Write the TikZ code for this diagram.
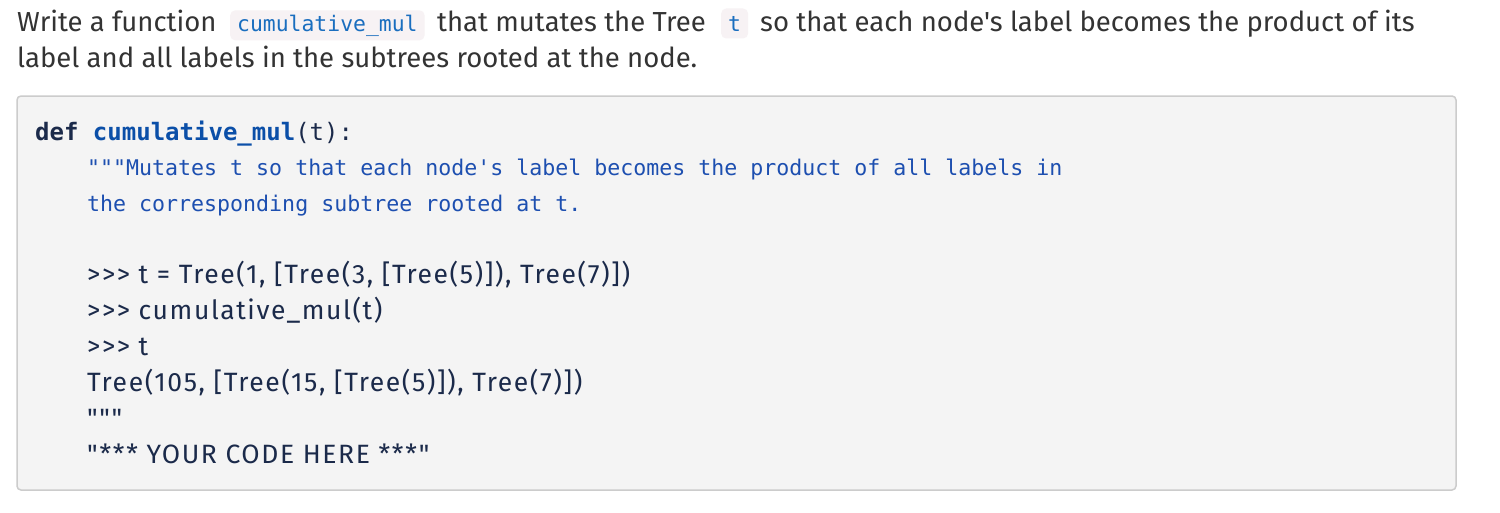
\documentclass[tikz,border=0pt]{standalone}
\usepackage{fontspec}
\newfontfamily\prose{Fira Sans}
\newfontfamily\dtfont[LetterSpace=6]{Fira Sans}
\newfontfamily\codef{DejaVu Sans Mono}
\definecolor{txt}{HTML}{333333}
\definecolor{chipbg}{HTML}{F7F2F4}
\definecolor{chipfg}{HTML}{1A6EBF}
\definecolor{kw}{HTML}{1B2A4A}
\definecolor{fn}{HTML}{0B4FA8}
\definecolor{doc}{HTML}{1D4FB0}
\definecolor{codebg}{HTML}{F4F4F4}
\definecolor{codeborder}{HTML}{CCCCCC}
\begin{document}
\begin{tikzpicture}[x=1pt,y=-1pt,
  body/.style={anchor=base west,inner sep=0pt,font=\prose\fontsize{27.5}{32}\selectfont,text=txt},
  chip/.style={fill=chipbg,rounded corners=5pt,minimum height=30pt,text=chipfg,font=\codef\fontsize{21.4}{26}\selectfont,inner xsep=7pt,anchor=base west},
  code/.style={anchor=base west,inner sep=0pt,font=\codef\fontsize{21.6}{30}\selectfont,text=kw},
  dt/.style={anchor=base west,inner sep=0pt,font=\dtfont\fontsize{26.5}{30}\selectfont,text=kw}]
\useasboundingbox (0,0) rectangle (1500,512);
\fill[white] (0,0) rectangle (1500,512);
% prose
\node[body] (w1) at (17,31) {Write a function};
\node[chip] (c1) at (230,31) {cumulative\_mul};
\node[body] (w2) at (437,31) {that mutates the Tree};
\node[chip] (c2) at (721,31) {t};
\node[body] (w3) at (760,31) {so that each node's label becomes the product of its};
\node[body] (w4) at (17,67) {label and all labels in the subtrees rooted at the node.};
% code box
\draw[codeborder,fill=codebg,line width=1.5pt,rounded corners=4pt] (17,96) rectangle (1456,490);
\node[code,font=\codef\fontsize{24}{30}\selectfont] (l1) at (35,140) {\textbf{def} \textcolor{fn}{\textbf{cumulative\_mul}}(t):};
\node[code,text=doc] (l2) at (87,175) {"""Mutates t so that each node's label becomes the product of all labels in};
\node[code,text=doc] (l3) at (87,211) {the corresponding subtree rooted at t.};
\node[dt] (l4) at (87,283) {>>> t = Tree(1, [Tree(3, [Tree(5)]), Tree(7)])};
\node[dt] (l5) at (87,319) {>>> cumulative\_mul(t)};
\node[dt] (l6) at (87,355) {>>> t};
\node[dt] (l7) at (87,391) {Tree(105, [Tree(15, [Tree(5)]), Tree(7)])};
\node[dt] (l8) at (87,427) {"""};
\node[dt] (l9) at (87,463) {"*** YOUR CODE HERE ***"};
\end{tikzpicture}
\end{document}
